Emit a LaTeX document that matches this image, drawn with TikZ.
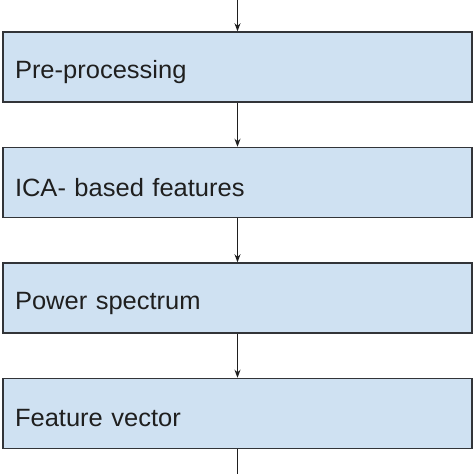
\documentclass[tikz,border=0pt]{standalone}
\usepackage{fontspec}
\setmainfont{Liberation Sans}
\usetikzlibrary{positioning}
\usetikzlibrary{arrows.meta}
\definecolor{boxblue}{RGB}{207, 225, 242}
\definecolor{boxgray}{RGB}{50, 52, 56}
\newcommand{\steplabel}[1]{\raisebox{-5pt}[\height][\depth]{\scalebox{1.02}[1]{#1}}}

\begin{document}
\begin{tikzpicture}[x=1pt, y=1pt, node distance=44pt,
    every node/.style={font=\fontsize{25}{29}\selectfont},
    stagebox/.style={draw=boxgray, fill=boxblue, line width=1.5pt, minimum height=70pt,
        text width=445pt, inner xsep=12pt, align=left, text=black!88},
    flow/.style={draw=black!88, line width=1pt, -{Stealth[length=8pt, width=6pt]}}]

        \useasboundingbox (0,0) rectangle (474,-474);

        % Stages
        \node[stagebox] (preproc) at (237.5,-67) {\steplabel{Pre-processing}};
        \node[stagebox, below=of preproc] (icafeat) {\steplabel{ICA- based features}};
        \node[stagebox, below=of icafeat] (powspec) {\steplabel{Power spectrum}};
        \node[stagebox, below=of powspec] (featvec) {\steplabel{Feature vector}};

        % Loose ends
        \coordinate (inflow) at (237.5,0);
        \coordinate (outflow) at (237.5,-474);

        % Connectors
        \draw[flow] (inflow) -- (preproc);
        \draw[flow] (preproc) -- (icafeat);
        \draw[flow] (icafeat) -- (powspec);
        \draw[flow] (powspec) -- (featvec);
        \draw[draw=black!88, line width=1pt] (featvec) -- (outflow);

    \end{tikzpicture}
\end{document}
